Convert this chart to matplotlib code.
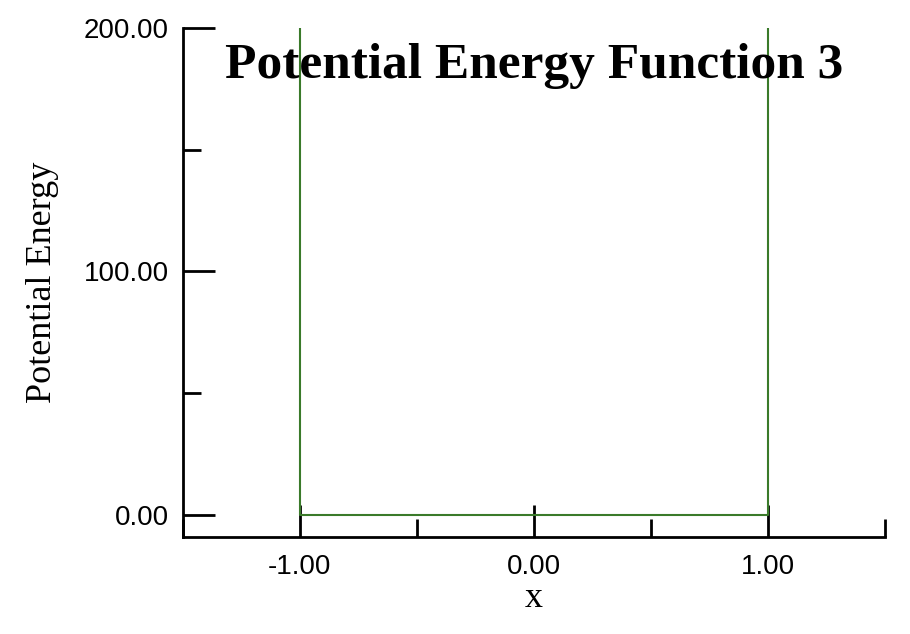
import matplotlib
matplotlib.use("Agg")
import matplotlib.pyplot as plt
from matplotlib.ticker import MultipleLocator, FormatStrFormatter

x = [-1.0, -1.0, 1.0, 1.0]
energy = [200.0, 0.0, 0.0, 200.0]

fig = plt.figure(figsize=(9.1, 6.34), dpi=100)
ax = fig.add_axes([0.201, 0.153, 0.7715, 0.803])
ax.plot(x, energy, color="#3a7a2a", lw=1.5)
ax.set_xlim(-1.5, 1.5)
ax.set_ylim(-9, 200)
for s in ["top", "right"]:
    ax.spines[s].set_visible(False)
for s in ["left", "bottom"]:
    ax.spines[s].set_linewidth(2)
ax.xaxis.set_major_locator(MultipleLocator(1))
ax.xaxis.set_minor_locator(MultipleLocator(0.5))
ax.yaxis.set_major_locator(MultipleLocator(100))
ax.yaxis.set_minor_locator(MultipleLocator(50))
ax.xaxis.set_major_formatter(FormatStrFormatter("%.2f"))
ax.yaxis.set_major_formatter(FormatStrFormatter("%.2f"))
ax.tick_params(which="major", direction="in", length=23, width=2, labelsize=20)
ax.tick_params(which="minor", direction="in", length=13, width=2)
ax.tick_params(axis="y", which="major", pad=10)
ax.tick_params(axis="x", which="major", pad=12)
for lab in ax.get_xticklabels() + ax.get_yticklabels():
    lab.set_family("Liberation Sans")
ax.set_xlabel("x", family="Liberation Serif", fontsize=26, labelpad=2)
ax.set_ylabel("Potential Energy", family="Liberation Serif", fontsize=26, labelpad=18)
ax.text(0.5, 0.925, "Potential Energy Function 3", transform=ax.transAxes,
        ha="center", va="center", family="Liberation Serif", fontweight="bold", fontsize=37)
fig.savefig("out.png", dpi=100)
